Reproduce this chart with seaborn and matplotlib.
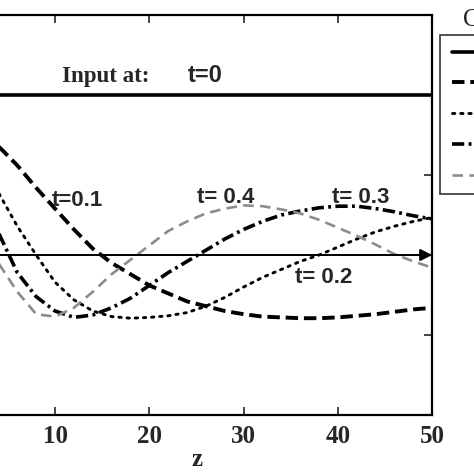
import numpy as np
import pandas as pd
import matplotlib
matplotlib.use("Agg")
import matplotlib.pyplot as plt
import seaborn as sns

# ---- data ----
z = [0, 2, 4, 6, 8, 10, 12, 14, 16, 18, 20, 22, 24, 26, 28, 30, 32, 34, 36, 38, 40, 42, 44, 46, 48, 50]
u_t0 = [1.0] * len(z)
u_t01 = [0.90, 0.80, 0.68, 0.56, 0.42, 0.29, 0.16, 0.04, -0.05, -0.12, -0.19, -0.24, -0.29, -0.32,
         -0.35, -0.37, -0.385, -0.39, -0.395, -0.395, -0.39, -0.38, -0.37, -0.355, -0.34, -0.33]
u_t02 = [0.85, 0.62, 0.39, 0.18, 0.00, -0.17, -0.28, -0.35, -0.385, -0.395, -0.39, -0.38, -0.36, -0.32,
         -0.265, -0.20, -0.14, -0.09, -0.04, 0.00, 0.05, 0.10, 0.145, 0.18, 0.21, 0.235]
u_t03 = [0.75, 0.45, 0.14, -0.11, -0.26, -0.35, -0.39, -0.375, -0.33, -0.27, -0.19, -0.11, -0.04, 0.03,
         0.10, 0.16, 0.21, 0.25, 0.275, 0.295, 0.305, 0.305, 0.29, 0.27, 0.245, 0.225]
u_t04 = [0.45, 0.20, -0.05, -0.23, -0.37, -0.385, -0.33, -0.23, -0.12, -0.03, 0.06, 0.15, 0.21, 0.26,
         0.29, 0.31, 0.305, 0.285, 0.26, 0.22, 0.17, 0.12, 0.065, 0.005, -0.04, -0.08]
series_names = ["t=0", "t=0.1", "t=0.2", "t=0.3", "t=0.4"]
x_ticks = [10, 20, 30, 40, 50]
y_ticks = [-1, -0.5, 0, 0.5, 1, 1.5]

sns.set_style("ticks")
plt.rcParams["font.family"] = ["Liberation Serif", "DejaVu Serif"]

fig = plt.figure(figsize=(4.74, 4.74), dpi=100)
W = 474.0
ax = fig.add_axes([-39.3 / W, 59 / W, 471.6 / W, 400 / W])

styles = [
    dict(color="black", lw=2.6, linestyle="-"),
    dict(color="black", lw=2.8, linestyle=(0, (3.2, 1.5))),
    dict(color="black", lw=2.1, linestyle=(0, (0.8, 2.0)), dash_capstyle="round"),
    dict(color="black", lw=2.6, linestyle=(0, (3.4, 1.2, 0.8, 1.2))),
    dict(color="#8c8c8c", lw=1.9, linestyle=(0, (4.0, 2.4))),
]
ys = [u_t0, u_t01, u_t02, u_t03, u_t04]
handles = []
for name, y, st in zip(series_names, ys, styles):
    df = pd.DataFrame({"z": z, "u": y})
    sns.lineplot(data=df, x="z", y="u", ax=ax, estimator=None, sort=False, legend=False, **st)
    handles.append(ax.get_lines()[-1])

# z axis with arrow at u = 0
ax.annotate("", xy=(50, 0), xytext=(0, 0),
            arrowprops=dict(arrowstyle="-|>", lw=1.4, color="black", mutation_scale=18,
                            shrinkA=0, shrinkB=0), annotation_clip=False, zorder=5)

ax.set_xlim(0, 50)
ax.set_ylim(-1, 1.5)
ax.set_xticks(x_ticks)
ax.set_yticks(y_ticks)
ax.tick_params(direction="in", top=True, right=True, length=6, width=1.2,
               labelsize=18, pad=7, labelleft=False)
for lab in ax.get_xticklabels():
    lab.set_fontweight("bold")
for sp in ax.spines.values():
    sp.set_visible(True)
    sp.set_linewidth(1.6)
    sp.set_color("black")
ax.set_xlabel("z", fontsize=18, fontweight="bold", labelpad=0)
ax.set_ylabel("")

# annotations
sans = ["Liberation Sans"]
ax.text(10.74, 1.08, "Input at:", fontsize=16.5, fontweight="bold", ha="left", va="baseline")
ax.text(24.1, 1.08, "t=0", fontsize=17, family=sans, fontweight="bold", ha="left", va="baseline")
ax.text(9.68, 0.306, "t=0.1", fontsize=16, family=sans, fontweight="bold", ha="left", va="baseline")
ax.text(25.05, 0.325, "t= 0.4", fontsize=16, family=sans, fontweight="bold", ha="left", va="baseline")
ax.text(39.4, 0.325, "t= 0.3", fontsize=16, family=sans, fontweight="bold", ha="left", va="baseline")
ax.text(35.45, -0.175, "t= 0.2", fontsize=16, family=sans, fontweight="bold", ha="left", va="baseline")

leg = ax.legend(handles, series_names, loc="upper left",
                bbox_to_anchor=(440 / W, 1 - 35 / W), bbox_transform=fig.transFigure,
                frameon=True, fancybox=False, fontsize=9, borderpad=0.95,
                labelspacing=1.5, handlelength=4.5, borderaxespad=0)
leg.get_frame().set_edgecolor("black")
leg.get_frame().set_linewidth(1.2)
fig.text(463 / W, 1 - 20 / W, "Curves", fontsize=18, ha="left", va="center")

fig.savefig("out.png", dpi=100, facecolor="white")
